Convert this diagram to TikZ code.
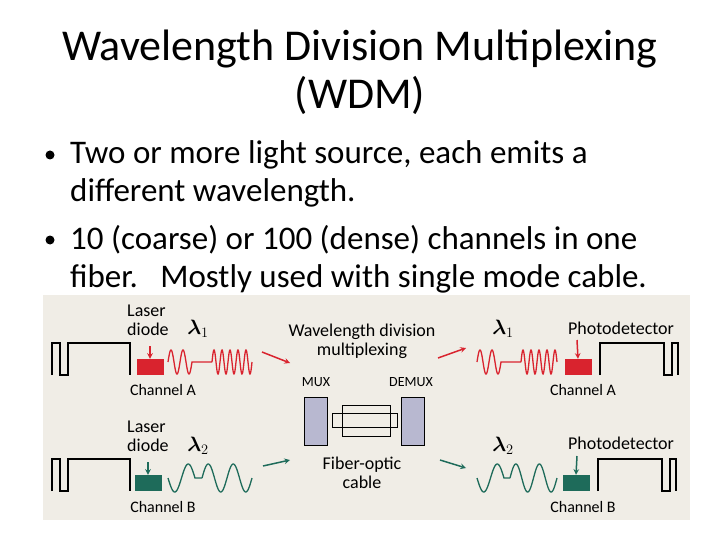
\documentclass[tikz,border=0pt]{standalone}
\usepackage{amsmath}
\usepackage{fontspec}
\setmainfont{Carlito}
\usetikzlibrary{positioning}
\definecolor{chred}{HTML}{D9232E}
\definecolor{chgreen}{HTML}{1E6B5A}
\definecolor{panel}{HTML}{F0EDE6}
\definecolor{muxfill}{HTML}{B8B8D0}
\tikzset{
  lbl/.style={inner sep=0pt, font=\fontsize{18}{19}\selectfont},
  small/.style={inner sep=0pt, font=\fontsize{16}{17}\selectfont},
  tiny/.style={inner sep=0pt, font=\fontsize{14}{15}\selectfont},
  lam/.style={inner sep=0pt, font=\fontsize{20}{20}\selectfont},
  pulse/.style={line width=2.6pt},
  wave/.style={line width=1.3pt},
  arr/.style={line width=1.5pt, ->, >=stealth},
  src/.style={draw=none, minimum width=27pt, minimum height=16pt, inner sep=0pt},
  mux/.style={draw=black, fill=muxfill, minimum width=23pt, minimum height=48pt, inner sep=0pt},
  bul/.style={inner sep=0pt, font=\fontsize{33}{38}\selectfont, align=left, anchor=west},
}
\begin{document}
\begin{tikzpicture}[x=1pt, y=-1pt]
  \useasboundingbox (0,0) rectangle (720,540);
  \fill[white] (0,0) rectangle (720,540);
  % Title and bullets
  \node[inner sep=0pt, font=\fontsize{44}{48}\selectfont, align=center] (title) at (360,72)
    {Wavelength Division Multiplexing\\(WDM)};
  \node[bul] (b1) at (70,174) {Two or more light source, each emits a\\different wavelength.};
  \node[bul] (b2) at (70,259) {10 (coarse) or 100 (dense) channels in one\\fiber.\ \ \ Mostly used with single mode cable.};
  \fill (50,155) circle (4.5pt);
  \fill (50,240) circle (4.5pt);

  % Panel
  \fill[panel] (43,295) rectangle (690,520);

  % Channel A, transmit side
  \draw[pulse] (52,375) -- (52,343) -- (60,343) -- (60,375) -- (68,375) -- (68,343) -- (130,343) -- (130,375);
  \node[src, fill=chred] (laserA) at (150,367) {};
  \node[lbl, align=left, anchor=west] (ldA) at (127,320) {Laser\\diode};
  \draw[chred, arr] (150,346) -- (laserA.north);
  \node[lam] (lamA) at (198,329) {$\boldsymbol{\lambda}_1$};
  \node[small] (chA) at (163,390) {Channel A};
  \draw[chred, wave] plot[domain=168:192, samples=80] (\x,{362-12*sin((\x-168)/12*360)})
    -- (212,362) plot[domain=212:252, samples=120] (\x,{362-12*sin((\x-212)/8*360)});
  \coordinate (aout) at (262,352);
  \coordinate (ain) at (290,363);
  \draw[chred, arr] (aout) -- (ain);

  % Channel B, transmit side
  \draw[pulse] (52,491) -- (52,459) -- (60,459) -- (60,491) -- (68,491) -- (68,459) -- (130,459) -- (130,491);
  \node[src, fill=chgreen] (laserB) at (148,483) {};
  \node[lbl, align=left, anchor=west] (ldB) at (127,436) {Laser\\diode};
  \draw[chgreen, arr] (148,462) -- (laserB.north);
  \node[lam] (lamB) at (198,446) {$\boldsymbol{\lambda}_2$};
  \node[small] (chB) at (163,507) {Channel B};
  \draw[chgreen, wave] plot[domain=168:195, samples=80] (\x,{478+14*sin((\x-168)/27*360)})
    -- (202,478) plot[domain=202:252, samples=120] (\x,{478-14*sin((\x-202)/25*360)});
  \coordinate (bout) at (263,466);
  \coordinate (bin) at (290,460);
  \draw[chgreen, arr] (bout) -- (bin);

  % Multiplexer, cable, demultiplexer
  \node[lbl, align=center] (wdm) at (362,341) {Wavelength division\\multiplexing};
  \node[mux] (mux) at (316,421) {};
  \node[mux] (demux) at (413,421) {};
  \node[tiny] (muxl) at (316,382) {MUX};
  \node[tiny] (demuxl) at (411,382) {DEMUX};
  \node[draw, fill=panel, minimum width=65pt, minimum height=14pt, inner sep=0pt] (cable) at (365,420) {};
  \node[draw, minimum width=48pt, minimum height=31pt, inner sep=0pt] (cablej) at (366,421) {};
  \draw (cablej.west |- cable.north) -- (cablej.east |- cable.north);
  \node[lbl, align=center] (fiber) at (362,473) {Fiber-optic\\cable};

  % Channel A, receive side
  \coordinate (cout) at (438,358);
  \coordinate (cin) at (466,348);
  \draw[chred, arr] (cout) -- (cin);
  \node[lam] (lamA2) at (503,329) {$\boldsymbol{\lambda}_1$};
  \draw[chred, wave] plot[domain=477:501, samples=80] (\x,{362-12*sin((\x-477)/12*360)})
    -- (521,362) plot[domain=521:557, samples=120] (\x,{362-12*sin((\x-521)/8*360)});
  \node[src, fill=chred] (detA) at (578,367) {};
  \node[lbl] (pdA) at (621,328) {Photodetector};
  \draw[chred, arr] (577,340) -- (detA.north);
  \node[small] (chA2) at (583,390) {Channel A};
  \draw[pulse] (600,375) -- (600,343) -- (664,343) -- (664,375) -- (672,375) -- (672,343) -- (678,343) -- (678,375);

  % Channel B, receive side
  \coordinate (dout) at (440,460);
  \coordinate (din) at (466,468);
  \draw[chgreen, arr] (dout) -- (din);
  \node[lam] (lamB2) at (503,446) {$\boldsymbol{\lambda}_2$};
  \draw[chgreen, wave] plot[domain=477:504, samples=80] (\x,{478+14*sin((\x-477)/27*360)})
    -- (510,478) plot[domain=510:557, samples=120] (\x,{478-14*sin((\x-510)/23.5*360)});
  \node[src, fill=chgreen] (detB) at (576,483) {};
  \node[lbl] (pdB) at (621,443) {Photodetector};
  \draw[chgreen, arr] (577,456) -- (detB.north);
  \node[small] (chB2) at (583,507) {Channel B};
  \draw[pulse] (598,491) -- (598,459) -- (662,459) -- (662,491) -- (670,491) -- (670,459) -- (676,459) -- (676,491);
\end{tikzpicture}
\end{document}
